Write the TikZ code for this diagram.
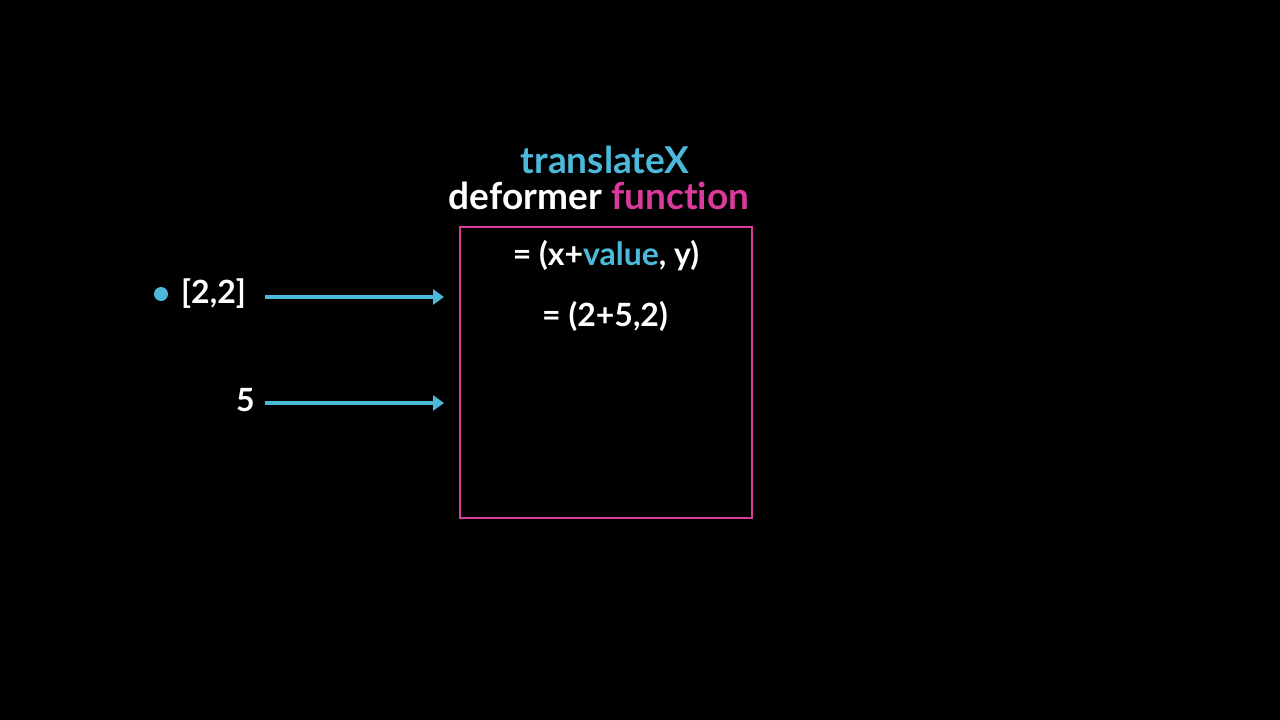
\documentclass[tikz,border=0pt]{standalone}
\usepackage{fontspec}
\setmainfont{Lato}[Ligatures={NoCommon}]
\usetikzlibrary{arrows.meta}
\definecolor{cy}{HTML}{4DB9DA}
\definecolor{mg}{HTML}{D93A9C}
\tikzset{
  txt/.style={text=white, font=\bfseries\fontsize{32}{36}\selectfont, inner sep=0pt},
  ttl/.style={font=\bfseries\fontsize{37}{42}\selectfont, inner sep=0pt},
  arr/.style={draw=cy, line width=4.5pt, -{Triangle[length=11pt,width=15pt]}},
}
\begin{document}
\begin{tikzpicture}[x=1pt,y=-1pt]
\fill[black] (0,0) rectangle (1280,720);
\useasboundingbox (0,0) rectangle (1280,720);
\node[draw=mg, line width=1.8pt, minimum width=292pt, minimum height=291pt, anchor=north west, inner sep=0pt] (box) at (459,226) {};
\node[ttl, text=cy] (t1) at (605,160) {translateX};
\node[ttl, text=white, anchor=base east] (t2) at (602,209) {deformer};
\node[ttl, text=mg, anchor=base west] (t3) at (611,209) {function};
\node[txt] (e1) at (606,256) {= (x+\textcolor{cy}{value}, y)};
\node[txt] (e2) at (605,316) {= (2+5,2)};
\fill[cy] (161,294) circle (7pt) coordinate (dot);
\node[txt, anchor=west] (p) at (181,294) {[2,2]};
\node[txt, anchor=east] (v) at (255,400) {5};
\coordinate (a1s) at (265,297);
\coordinate (a1e) at (444,297);
\coordinate (a2s) at (265,403);
\coordinate (a2e) at (444,403);
\draw[arr] (a1s) -- (a1e);
\draw[arr] (a2s) -- (a2e);
\end{tikzpicture}
\end{document}
